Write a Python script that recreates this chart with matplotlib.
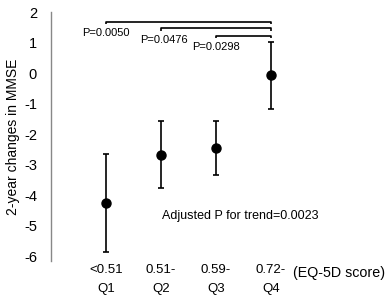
import matplotlib
matplotlib.use("Agg")
import matplotlib.pyplot as plt

plt.rcParams['font.family'] = ['Liberation Sans', 'DejaVu Sans']

categories = ["<0.51\nQ1", "0.51-\nQ2", "0.59-\nQ3", "0.72-\nQ4"]
means = [-4.25, -2.67, -2.46, -0.05]
upper = [-2.66, -1.57, -1.58, 1.02]
lower = [-5.85, -3.77, -3.34, -1.16]
yticks = [2, 1, 0, -1, -2, -3, -4, -5, -6]
brackets = [(1, 4, 1.68, "P=0.0050"), (2, 4, 1.46, "P=0.0476"), (3, 4, 1.23, "P=0.0298")]
trend_text = "Adjusted P for trend=0.0023"
xaxis_note = "(EQ-5D score)"

W, H = 388, 305
fig = plt.figure(figsize=(W/100, H/100), dpi=100)
ax = fig.add_axes([51/W, 1-261/H, (W-51)/W, (261-12)/H])

x = list(range(1, len(means)+1))
yerr = [[m - l for m, l in zip(means, lower)], [u - m for m, u in zip(means, upper)]]
ax.errorbar(x, means, yerr=yerr, fmt='o', color='black', ms=6.5, elinewidth=1.2,
            capsize=2, capthick=1.2)

ax.set_xlim(0, (W-51)/55)
ax.set_ylim(-6.15, 1.95)
ax.set_yticks(yticks)
ax.set_yticklabels([str(t) for t in yticks], fontsize=10.5)
ax.set_xticks(x)
ax.set_xticklabels(categories, fontsize=9.5, linespacing=1.75)
ax.tick_params(axis='y', length=0, pad=10)
ax.tick_params(axis='x', length=0, pad=2)
for s in ['top', 'right', 'bottom']:
    ax.spines[s].set_visible(False)
ax.spines['left'].set_color('#888888')
ax.spines['left'].set_linewidth(1.0)

ax.set_ylabel("2-year changes in MMSE", fontsize=10, labelpad=3)

offsets = {1: -0.43, 2: -0.38, 3: -0.43}
for (a, b, yb, lab) in brackets:
    ax.plot([a, a, b, b], [yb - 0.08, yb, yb, yb - 0.08], color='black', lw=1.2,
            solid_capstyle='butt')
    ax.text(a + offsets[a], yb - 0.38, lab, fontsize=8, ha='left', va='center')

ax.text(3.45, -4.67, trend_text, fontsize=9, ha='center', va='center')
ax.text(5.24, -6.15 - 0.17, xaxis_note, fontsize=10.3, ha='center', va='top', clip_on=False)

fig.savefig("out.png", dpi=100)
